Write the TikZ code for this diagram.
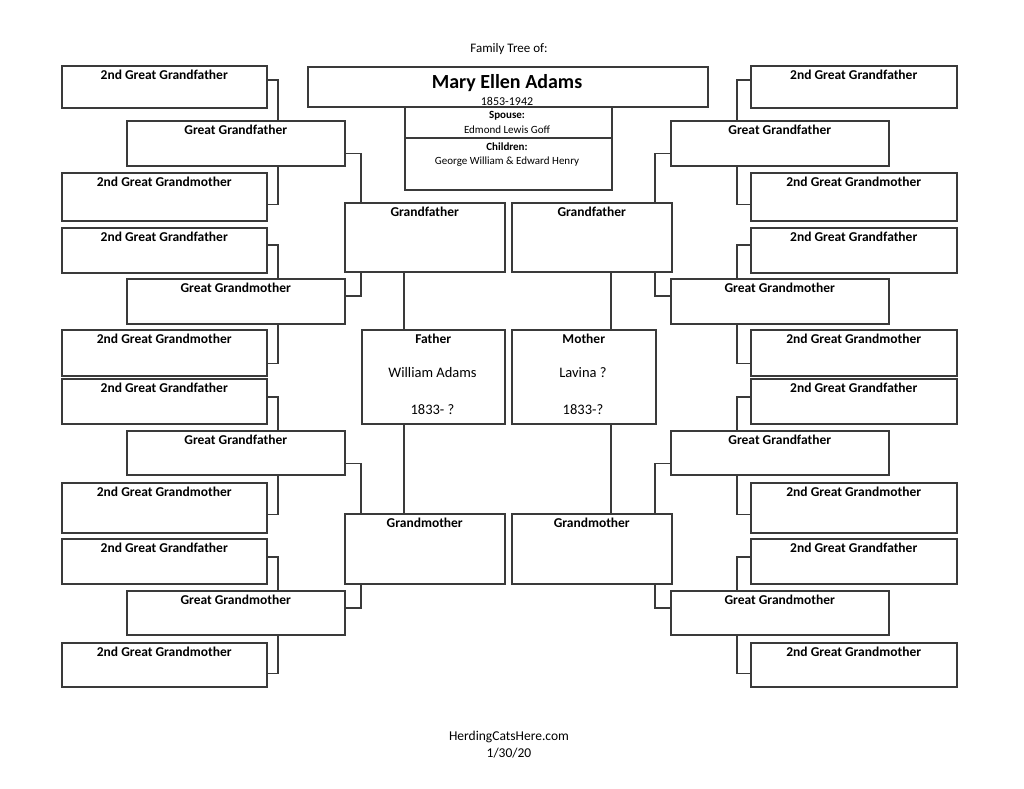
\documentclass[tikz,border=0pt]{standalone}
\usepackage{fontspec}
\setmainfont{Carlito}
\usepackage{xcolor}
\usepackage{tikz}
\usetikzlibrary{positioning}
\definecolor{linec}{HTML}{3A3A3A}
\newcommand{\tagfont}{\fontsize{13.5}{16}\selectfont\bfseries}
\newcommand{\smallfont}{\fontsize{11}{13}\selectfont}
\tikzset{
  box/.style={draw=linec, line width=1.5pt, inner sep=0pt, anchor=north west},
  gg/.style={box, minimum width=205pt},
  gt/.style={box, minimum width=218pt, minimum height=45pt},
  tag/.style={font=\tagfont, anchor=base, yshift=-14.5pt, inner sep=0pt},
  wire/.style={draw=linec, line width=1.5pt},
  txt/.style={anchor=base, inner sep=0pt}}

\begin{document}
\begin{tikzpicture}[x=1pt, y=-1pt]
  \useasboundingbox (0,0) rectangle (1024,788);
  % ---- the person the tree is for
  \node[txt, font=\fontsize{13}{15}\selectfont] (head) at (509,52) {Family Tree of:};
  \node[box, minimum width=400pt, minimum height=40pt] (title) at (307,66) {};
  \node[box, minimum width=207pt, minimum height=83pt] (info) at (404,106) {};
  \draw[wire] ([yshift=-32pt]info.north west) -- ([yshift=-32pt]info.north east);
  \node[txt, font=\fontsize{20}{24}\selectfont\bfseries] (name) at (507,88) {Mary Ellen Adams};
  \node[txt, font=\fontsize{12}{14}\selectfont] (life) at (507,105.6) {1853-1942};
  \node[txt, font=\smallfont\bfseries] (spl) at (507,118.5) {Spouse:};
  \node[txt, font=\smallfont] (spn) at (507,133) {Edmond Lewis Goff};
  \node[txt, font=\smallfont\bfseries] (chl) at (507,150.2) {Children:};
  \node[txt, font=\smallfont] (chn) at (507,164.6) {George William \& Edward Henry};
  % ---- parents and grandparents
  \node[box, minimum width=160pt, minimum height=69pt,
    label={[tag]north:Grandfather}] (lgf) at (344,202) {};
  \node[box, minimum width=160pt, minimum height=69pt,
    label={[tag]north:Grandfather}] (rgf) at (511,202) {};
  \node[box, minimum width=143pt, minimum height=94pt,
    label={[tag]north:Father}] (dad) at (361,329) {};
  \node[box, minimum width=144pt, minimum height=94pt,
    label={[tag]north:Mother}] (mum) at (511,329) {};
  \node[box, minimum width=160pt, minimum height=70pt,
    label={[tag]north:Grandmother}] (lgm) at (344,513) {};
  \node[box, minimum width=160pt, minimum height=70pt,
    label={[tag]north:Grandmother}] (rgm) at (511,513) {};
  \node[txt, font=\fontsize{14.5}{17}\selectfont] (dadn) at (432.5,377.4) {William Adams};
  \node[txt, font=\fontsize{14.5}{17}\selectfont] (dadd) at (432.5,414.7) {1833- ?};
  \node[txt, font=\fontsize{14.5}{17}\selectfont] (mumn) at (583,377.4) {Lavina ?};
  \node[txt, font=\fontsize{14.5}{17}\selectfont] (mumd) at (583,414.7) {1833-?};
  % ---- left half: great and 2nd great grandparents
  \node[gg, minimum height=42pt, label={[tag]north:2nd Great Grandfather}] (lgg1) at (61,65) {};
  \node[gg, minimum height=48pt, label={[tag]north:2nd Great Grandmother}] (lgg2) at (61,172) {};
  \node[gg, minimum height=45pt, label={[tag]north:2nd Great Grandfather}] (lgg3) at (61,227) {};
  \node[gg, minimum height=46pt, label={[tag]north:2nd Great Grandmother}] (lgg4) at (61,329) {};
  \node[gg, minimum height=45pt, label={[tag]north:2nd Great Grandfather}] (lgg5) at (61,378) {};
  \node[gg, minimum height=50pt, label={[tag]north:2nd Great Grandmother}] (lgg6) at (61,482) {};
  \node[gg, minimum height=45pt, label={[tag]north:2nd Great Grandfather}] (lgg7) at (61,538) {};
  \node[gg, minimum height=44pt, label={[tag]north:2nd Great Grandmother}] (lgg8) at (61,642) {};
  \node[gt, label={[tag]north:Great Grandfather}] (lgt1) at (126,120) {};
  \node[gt, label={[tag]north:Great Grandmother}] (lgt2) at (126,278) {};
  \node[gt, minimum height=44pt, label={[tag]north:Great Grandfather}] (lgt3) at (126,430) {};
  \node[gt, minimum height=44pt, label={[tag]north:Great Grandmother}] (lgt4) at (126,590) {};
  % ---- right half
  \node[gg, minimum width=206pt, minimum height=42pt, label={[tag]north:2nd Great Grandfather}] (rgg1) at (750,65) {};
  \node[gg, minimum width=206pt, minimum height=48pt, label={[tag]north:2nd Great Grandmother}] (rgg2) at (750,172) {};
  \node[gg, minimum width=206pt, minimum height=45pt, label={[tag]north:2nd Great Grandfather}] (rgg3) at (750,227) {};
  \node[gg, minimum width=206pt, minimum height=46pt, label={[tag]north:2nd Great Grandmother}] (rgg4) at (750,329) {};
  \node[gg, minimum width=206pt, minimum height=45pt, label={[tag]north:2nd Great Grandfather}] (rgg5) at (750,378) {};
  \node[gg, minimum width=206pt, minimum height=50pt, label={[tag]north:2nd Great Grandmother}] (rgg6) at (750,482) {};
  \node[gg, minimum width=206pt, minimum height=45pt, label={[tag]north:2nd Great Grandfather}] (rgg7) at (750,538) {};
  \node[gg, minimum width=206pt, minimum height=44pt, label={[tag]north:2nd Great Grandmother}] (rgg8) at (750,642) {};
  \node[gt, label={[tag]north:Great Grandfather}] (rgt1) at (670,120) {};
  \node[gt, label={[tag]north:Great Grandmother}] (rgt2) at (670,278) {};
  \node[gt, minimum height=44pt, label={[tag]north:Great Grandfather}] (rgt3) at (670,430) {};
  \node[gt, minimum height=44pt, label={[tag]north:Great Grandmother}] (rgt4) at (670,590) {};
  % ---- the bus lines the elbows run down
  \coordinate (busLA) at (278,0);
  \coordinate (busLB) at (361,0);
  \coordinate (stemL) at (404,0);
  \coordinate (stemR) at (611,0);
  \coordinate (busRB) at (655,0);
  \coordinate (busRA) at (737,0);
  % 2nd great -> great
  \draw[wire] ([yshift=-15pt]lgg1.north east) -| (busLA |- lgt1.north);
  \draw[wire] ([yshift=17pt]lgg2.south east) -| (busLA |- lgt1.south);
  \draw[wire] ([yshift=-18pt]lgg3.north east) -| (busLA |- lgt2.north);
  \draw[wire] ([yshift=13pt]lgg4.south east) -| (busLA |- lgt2.south);
  \draw[wire] ([yshift=-19pt]lgg5.north east) -| (busLA |- lgt3.north);
  \draw[wire] ([yshift=19pt]lgg6.south east) -| (busLA |- lgt3.south);
  \draw[wire] ([yshift=-19pt]lgg7.north east) -| (busLA |- lgt4.north);
  \draw[wire] ([yshift=14pt]lgg8.south east) -| (busLA |- lgt4.south);
  \draw[wire] ([yshift=-15pt]rgg1.north west) -| (busRA |- rgt1.north);
  \draw[wire] ([yshift=17pt]rgg2.south west) -| (busRA |- rgt1.south);
  \draw[wire] ([yshift=-18pt]rgg3.north west) -| (busRA |- rgt2.north);
  \draw[wire] ([yshift=13pt]rgg4.south west) -| (busRA |- rgt2.south);
  \draw[wire] ([yshift=-19pt]rgg5.north west) -| (busRA |- rgt3.north);
  \draw[wire] ([yshift=19pt]rgg6.south west) -| (busRA |- rgt3.south);
  \draw[wire] ([yshift=-19pt]rgg7.north west) -| (busRA |- rgt4.north);
  \draw[wire] ([yshift=14pt]rgg8.south west) -| (busRA |- rgt4.south);
  % great -> grandparents
  \draw[wire] ([yshift=13pt]lgt1.south east) -| (busLB |- lgf.north);
  \draw[wire] ([yshift=-18pt]lgt2.north east) -| (busLB |- lgf.south);
  \draw[wire] ([yshift=12pt]lgt3.south east) -| (busLB |- lgm.north);
  \draw[wire] ([yshift=-18pt]lgt4.north east) -| (busLB |- lgm.south);
  \draw[wire] ([yshift=13pt]rgt1.south west) -| (busRB |- rgf.north);
  \draw[wire] ([yshift=-18pt]rgt2.north west) -| (busRB |- rgf.south);
  \draw[wire] ([yshift=12pt]rgt3.south west) -| (busRB |- rgm.north);
  \draw[wire] ([yshift=-18pt]rgt4.north west) -| (busRB |- rgm.south);
  % grandparents -> parents
  \draw[wire] (stemL |- lgf.south) -- (stemL |- dad.north);
  \draw[wire] (stemL |- dad.south) -- (stemL |- lgm.north);
  \draw[wire] (stemR |- rgf.south) -- (stemR |- mum.north);
  \draw[wire] (stemR |- mum.south) -- (stemR |- rgm.north);
  % ---- footer
  \node[txt, font=\fontsize{13.5}{16}\selectfont] (site) at (509,740.5) {HerdingCatsHere.com};
  \node[txt, font=\fontsize{13.5}{16}\selectfont] (date) at (509,757) {1/30/20};
\end{tikzpicture}
\end{document}
